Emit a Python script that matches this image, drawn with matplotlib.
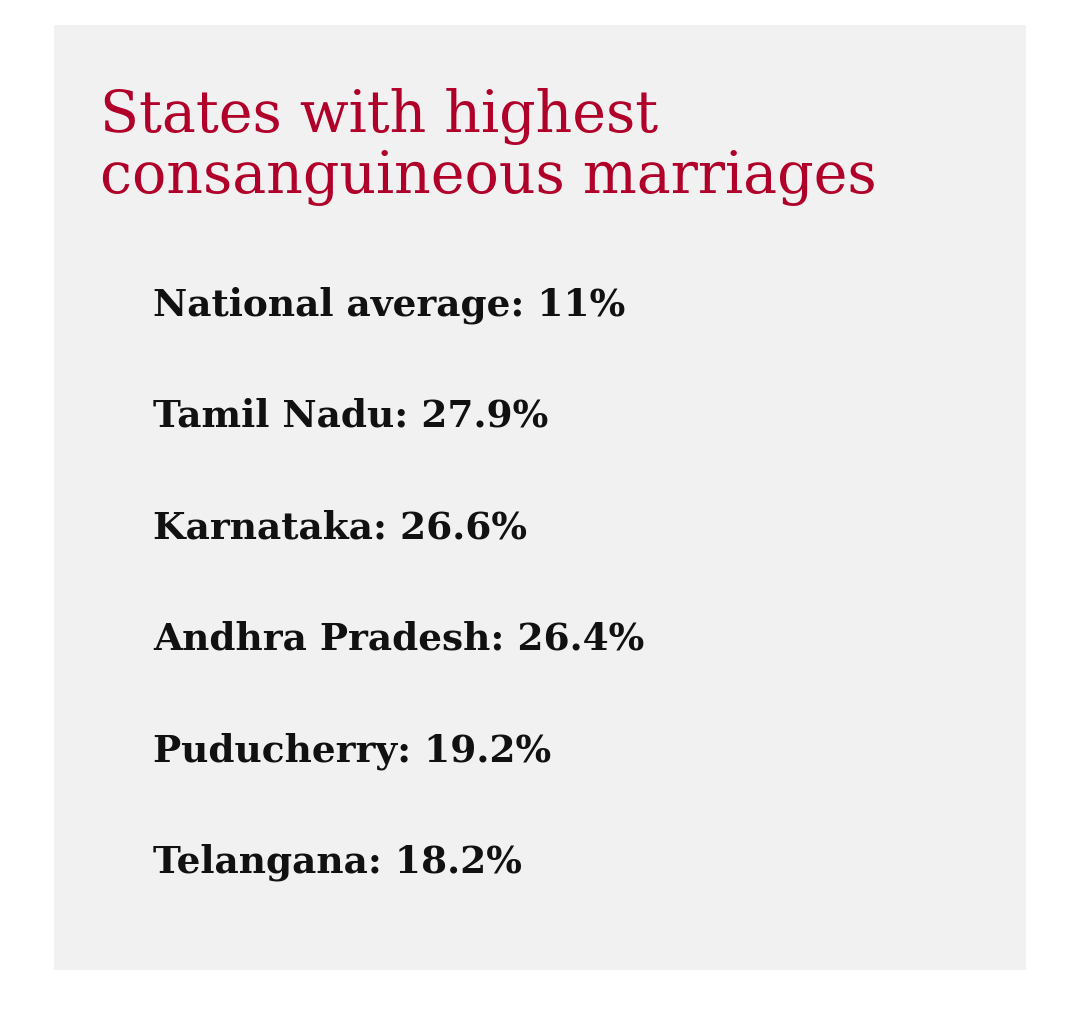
import matplotlib.pyplot as plt
from matplotlib.patches import Rectangle

title = "States with highest\nconsanguineous marriages"
states = ["National average", "Tamil Nadu", "Karnataka", "Andhra Pradesh", "Puducherry", "Telangana"]
values = ["11", "27.9", "26.6", "26.4", "19.2", "18.2"]

W, H = 1080, 1032
fig = plt.figure(figsize=(W / 100, H / 100), dpi=100)
fig.patch.set_facecolor("white")

# grey card
fig.patches.append(Rectangle((54 / W, 1 - 970 / H), 972 / W, 945 / H,
                             transform=fig.transFigure, facecolor="#f1f1f1",
                             edgecolor="none"))

fig.text(100 / W, 1 - 88 / H, title, color="#b0002a", fontsize=41,
         family="DejaVu Serif", va="top", ha="left", linespacing=1.1)

y0, step = 305, 111.5
for i, (s, v) in enumerate(zip(states, values)):
    fig.text(153 / W, 1 - (y0 + i * step) / H, f"{s}: {v}%", color="#111111",
             fontsize=27, family="DejaVu Serif", weight="bold",
             va="center", ha="left")

fig.savefig("out.png", dpi=100)
